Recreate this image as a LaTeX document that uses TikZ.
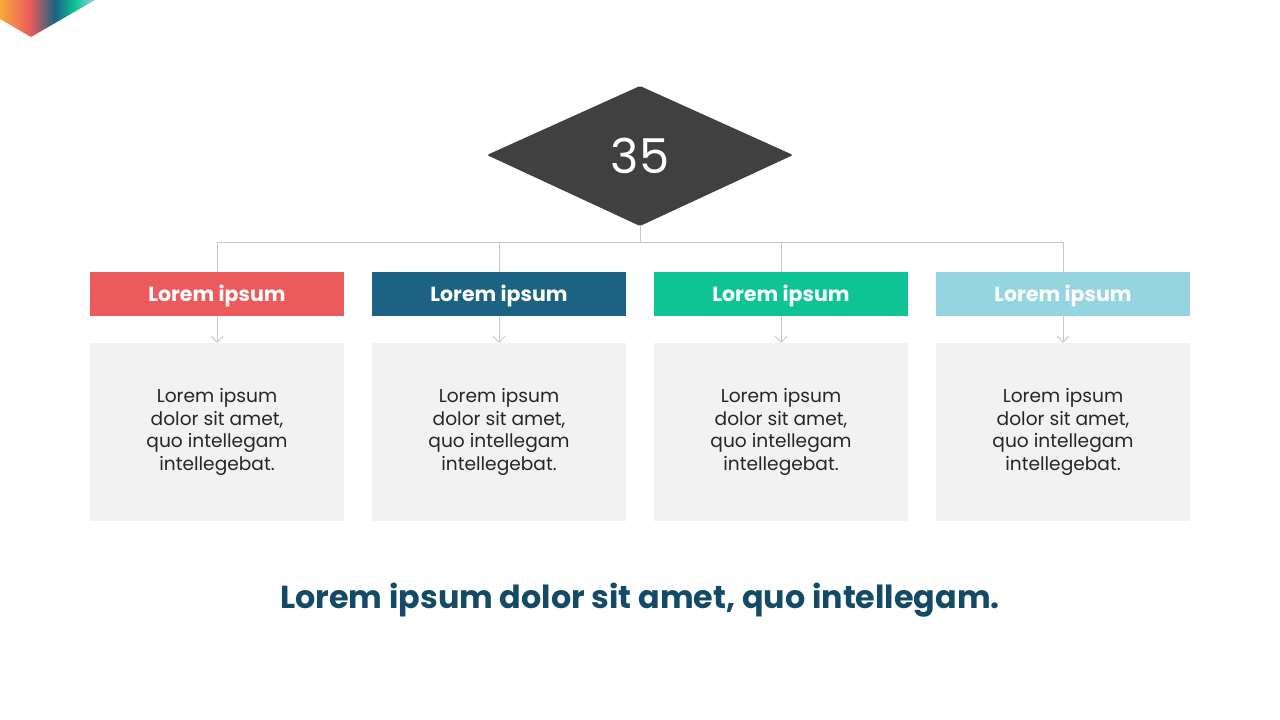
\documentclass[tikz,border=0pt]{standalone}
\usepackage{fontspec}
\setmainfont{Poppins}
\usetikzlibrary{arrows.meta}
\definecolor{cred}{HTML}{EB5B5B}
\definecolor{cblue}{HTML}{1B6283}
\definecolor{cgreen}{HTML}{0EC494}
\definecolor{clight}{HTML}{95D5E0}
\definecolor{cgray}{HTML}{F2F2F2}
\definecolor{cdia}{HTML}{404040}
\definecolor{cline}{HTML}{C8C8C8}
\definecolor{ctitle}{HTML}{134A66}
\definecolor{corange}{HTML}{F9A83C}
\definecolor{ctext}{HTML}{262626}
\tikzset{
  header/.style={fill=#1, draw=none, minimum width=254pt, minimum height=44pt, inner sep=0pt,
    text=white, text height=19pt, text depth=4pt, font=\fontsize{20.5}{22}\selectfont\bfseries},
  bodybox/.style={fill=cgray, draw=none, minimum width=254pt, minimum height=178pt, inner sep=0pt,
    text=ctext, align=center, font=\fontsize{18.6}{22.5}\selectfont},
  conn/.style={draw=cline, line width=0.8pt},
  arr/.style={conn, -{Straight Barb[length=6pt,width=12pt,line width=0.8pt]}}
}
\begin{document}
\begin{tikzpicture}[x=1pt,y=-1pt]
\useasboundingbox (0,0) rectangle (1280,720);
% corner gradient
\begin{scope}
\clip (0,0) -- (95,0) -- (31,37) -- (0,19) -- cycle;
\shade[left color=corange, right color=cred] (0,0) rectangle (30,40);
\shade[left color=cred, right color=cblue] (30,0) rectangle (55,40);
\shade[left color=cblue, right color=cgreen] (55,0) rectangle (75,40);
\shade[left color=cgreen, right color=clight] (75,0) rectangle (96,40);
\end{scope}
% diamond
\fill[cdia, rounded corners=1.5pt] (640,86) coordinate (dtop) -- (793,155) -- (640,226) coordinate (dbot) -- (487,155) -- cycle;
\node[text=white, font=\fontsize{48}{50}\selectfont] (num) at (640,156) {35};
% headers and boxes
\foreach \i/\x/\c in {1/217/cred, 2/499/cblue, 3/781/cgreen, 4/1063/clight}{
  \node[header=\c] (h\i) at (\x,294) {Lorem ipsum};
  \node[bodybox] (b\i) at (\x,432) {Lorem ipsum\\dolor sit amet,\\quo intellegam\\intellegebat.};
  \draw[arr] (h\i.south) -- (b\i.north);
}
% connectors
\coordinate (bus) at (640,242);
\draw[conn] (dbot) -- (bus);
\draw[conn] (h1.north) -- (h1.north |- bus) -- (h4.north |- bus) -- (h4.north);
\draw[conn] (h2.north) -- (h2.north |- bus);
\draw[conn] (h3.north) -- (h3.north |- bus);
% bottom title
\node[text=ctitle, font=\fontsize{31.8}{34}\selectfont\bfseries] (title) at (640,600) {Lorem ipsum dolor sit amet, quo intellegam.};
\end{tikzpicture}
\end{document}
